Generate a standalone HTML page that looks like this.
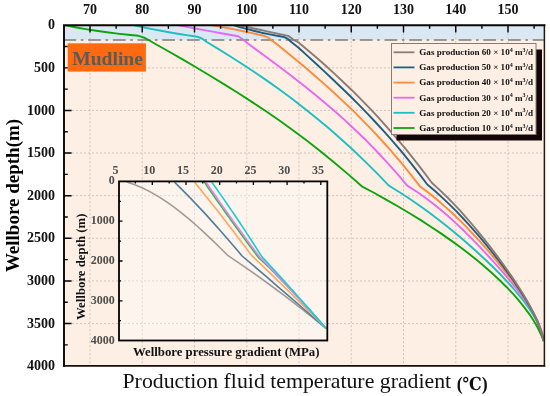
<!DOCTYPE html>
<html><head><meta charset="utf-8"><title>Chart</title>
<style>html,body{margin:0;padding:0;background:#fff}body{width:550px;height:396px;overflow:hidden}</style></head>
<body>
<svg width="550" height="396" viewBox="0 0 550 396" style="display:block">
<rect x="0" y="0" width="550" height="396" fill="#fff"/>
<rect x="64.0" y="25.2" width="480.4" height="340.6" fill="#feefe5"/>
<rect x="64.0" y="25.2" width="480.4" height="14.8" fill="#d9e8f3"/>
<path d="M90.00 25.2V365.8M142.25 25.2V365.8M194.50 25.2V365.8M246.75 25.2V365.8M299.00 25.2V365.8M351.25 25.2V365.8M403.50 25.2V365.8M455.75 25.2V365.8M508.00 25.2V365.8M64.0 67.83H544.4M64.0 110.45H544.4M64.0 153.07H544.4M64.0 195.70H544.4M64.0 238.32H544.4M64.0 280.95H544.4M64.0 323.57H544.4" stroke="#cabeb6" stroke-width="0.9" stroke-dasharray="2 2" fill="none"/>
<path d="M63.4 40.1H544.4" stroke="#7c7c7c" stroke-width="1.5" stroke-dasharray="12.8 4.6 2.6 4.7" fill="none"/>
<clipPath id="c"><rect x="64.0" y="25.2" width="480.4" height="340.6"/></clipPath>
<g clip-path="url(#c)" fill="none" stroke-width="1.9" stroke-linejoin="round">
<polyline points="64.6,25.1 75.2,27.2 85.7,29.1 96.3,30.8 106.9,32.3 117.5,33.6 128.0,34.8 138.6,35.8 144.1,37.7 149.5,40.5 155.0,43.7 168.8,51.5 182.6,59.4 196.4,67.5 210.1,75.7 223.9,84.1 237.7,92.7 251.5,101.6 265.3,110.8 279.1,120.3 292.9,130.2 306.7,140.5 320.4,151.2 334.2,162.4 348.0,174.1 361.8,186.3 374.4,193.0 386.5,199.8 398.2,206.5 409.5,213.2 420.4,219.9 430.8,226.7 440.9,233.4 450.5,240.1 459.8,246.8 468.6,253.6 477.1,260.3 485.1,267.0 492.7,273.7 499.9,280.5 506.7,287.2 513.1,293.9 518.9,300.6 524.3,307.4 529.3,314.1 533.7,320.8 537.6,327.5 540.9,334.3 543.7,341.0" stroke="#0ca50c"/>
<polyline points="134.0,25.2 143.0,27.2 152.1,29.1 161.1,30.8 170.2,32.5 179.2,34.0 188.3,35.4 197.3,36.7 201.8,38.5 204.5,40.2 206.4,41.8 218.6,49.1 230.8,56.7 242.9,64.5 255.1,72.5 267.3,80.9 279.5,89.5 291.7,98.5 303.8,107.9 316.0,117.7 328.2,127.8 340.4,138.5 352.6,149.5 364.7,161.1 376.9,173.2 389.1,185.8 400.0,192.5 410.3,199.3 420.1,206.0 429.4,212.8 438.3,219.5 446.9,226.3 455.2,233.0 463.2,239.8 470.9,246.5 478.4,253.3 485.7,260.0 492.7,266.8 499.5,273.5 505.9,280.3 512.1,287.0 517.9,293.8 523.3,300.5 528.3,307.3 532.7,314.0 536.6,320.8 539.7,327.5 542.1,334.3 543.7,341.0" stroke="#1cbfc2"/>
<polyline points="178.4,25.2 186.9,26.9 195.5,28.5 204.0,30.1 212.6,31.6 221.1,33.2 229.7,34.7 238.2,36.2 240.0,37.5 242.7,39.1 248.2,43.8 258.8,51.5 269.4,59.3 280.0,67.2 290.6,75.2 301.2,83.4 311.8,91.9 322.4,100.7 333.1,109.7 343.7,119.1 354.3,129.0 364.9,139.2 375.5,150.0 386.1,161.3 396.7,173.1 407.3,185.6 417.6,192.3 427.0,199.0 435.8,205.8 444.0,212.5 451.7,219.3 459.0,226.1 466.0,232.8 472.7,239.6 479.3,246.3 485.6,253.1 491.8,259.9 497.9,266.6 503.8,273.4 509.5,280.2 515.0,286.9 520.3,293.7 525.2,300.4 529.8,307.2 534.0,314.0 537.5,320.7 540.4,327.5 542.5,334.2 543.7,341.0" stroke="#e868ee"/>
<polyline points="212.0,25.3 219.5,26.6 227.0,28.0 234.5,29.4 242.0,31.0 249.5,32.6 257.0,34.3 264.5,36.0 269.2,38.2 271.8,40.4 276.6,44.1 286.2,51.8 295.7,59.6 305.3,67.6 314.8,75.7 324.4,84.1 334.0,92.7 343.5,101.6 353.1,110.7 362.6,120.3 372.2,130.2 381.8,140.5 391.3,151.2 400.9,162.4 410.4,174.1 420.0,186.4 428.9,193.1 437.2,199.8 445.0,206.6 452.4,213.3 459.4,220.0 466.1,226.7 472.5,233.5 478.7,240.2 484.7,246.9 490.5,253.6 496.2,260.3 501.7,267.1 507.0,273.8 512.2,280.5 517.1,287.2 521.8,293.9 526.2,300.7 530.3,307.4 534.1,314.1 537.4,320.8 540.1,327.6 542.3,334.3 543.7,341.0" stroke="#ff8a3c"/>
<polyline points="233.5,25.2 240.5,27.3 247.6,29.2 254.6,31.0 261.6,32.7 268.6,34.1 275.7,35.5 282.7,36.7 286.4,38.0 288.4,39.2 290.0,41.0 298.6,47.8 307.2,55.6 315.8,63.5 324.3,71.4 332.9,79.5 341.5,87.7 350.1,96.0 358.7,104.6 367.2,113.4 375.8,122.5 384.4,131.9 393.0,141.6 401.6,151.7 410.1,162.2 418.7,173.1 427.3,184.5 435.3,191.3 442.8,198.1 449.9,204.9 456.7,211.7 463.2,218.5 469.5,225.3 475.5,232.1 481.3,238.9 486.9,245.7 492.4,252.5 497.8,259.3 503.0,266.2 508.0,273.0 512.9,279.8 517.5,286.6 522.0,293.4 526.2,300.2 530.1,307.0 533.7,313.8 537.0,320.6 539.7,327.4 542.0,334.2 543.7,341.0" stroke="#1f5f82"/>
<polyline points="238.7,25.2 245.8,26.8 252.8,28.3 259.9,29.8 267.0,31.4 274.1,32.9 281.1,34.4 288.2,35.9 291.0,37.8 293.6,40.0 298.6,42.5 307.5,49.9 316.4,57.5 325.2,65.3 334.1,73.4 343.0,81.7 351.9,90.2 360.8,99.1 369.6,108.2 378.5,117.7 387.4,127.6 396.3,137.8 405.2,148.4 414.0,159.4 422.9,170.8 431.8,182.7 439.3,189.6 446.5,196.5 453.2,203.3 459.7,210.2 465.8,217.1 471.8,224.0 477.5,230.9 483.1,237.8 488.5,244.6 493.8,251.5 498.9,258.4 503.9,265.3 508.8,272.2 513.5,279.1 518.0,285.9 522.3,292.8 526.5,299.7 530.3,306.6 533.8,313.5 537.0,320.4 539.7,327.2 542.0,334.1 543.7,341.0" stroke="#8c7b74"/>
</g>
<path d="M64.0 365.8H544.4" fill="none" stroke="#1c0c08" stroke-width="1.7" stroke-linecap="square"/>
<path d="M544.4 25.2V365.8" fill="none" stroke="#2a140f" stroke-width="1.5" stroke-linecap="square"/>
<path d="M64.0 365.8V25.2H544.4" fill="none" stroke="#0c0503" stroke-width="1.9" stroke-linecap="square"/>
<path d="M90.00 25.2v7.2M116.12 25.2v3.6M142.25 25.2v7.2M168.38 25.2v3.6M194.50 25.2v7.2M220.62 25.2v3.6M246.75 25.2v7.2M272.88 25.2v3.6M299.00 25.2v7.2M325.12 25.2v3.6M351.25 25.2v7.2M377.38 25.2v3.6M403.50 25.2v7.2M429.62 25.2v3.6M455.75 25.2v7.2M481.88 25.2v3.6M508.00 25.2v7.2M534.12 25.2v3.6M64.0 46.51h3.8M64.0 67.83h7.6M64.0 89.14h3.8M64.0 110.45h7.6M64.0 131.76h3.8M64.0 153.07h7.6M64.0 174.39h3.8M64.0 195.70h7.6M64.0 217.01h3.8M64.0 238.32h7.6M64.0 259.64h3.8M64.0 280.95h7.6M64.0 302.26h3.8M64.0 323.57h7.6M64.0 344.89h3.8" stroke="#000" stroke-width="1.4" fill="none"/>
<g font-family="'Liberation Serif',serif" font-weight="bold" font-size="14" fill="#111">
<text x="90.0" y="14.1" text-anchor="middle">70</text>
<text x="142.2" y="14.1" text-anchor="middle">80</text>
<text x="194.5" y="14.1" text-anchor="middle">90</text>
<text x="246.8" y="14.1" text-anchor="middle">100</text>
<text x="299.0" y="14.1" text-anchor="middle">110</text>
<text x="351.2" y="14.1" text-anchor="middle">120</text>
<text x="403.5" y="14.1" text-anchor="middle">130</text>
<text x="455.8" y="14.1" text-anchor="middle">140</text>
<text x="508.0" y="14.1" text-anchor="middle">150</text>
<text x="55" y="29.2" text-anchor="end">0</text>
<text x="55" y="71.8" text-anchor="end">500</text>
<text x="55" y="114.5" text-anchor="end">1000</text>
<text x="55" y="157.1" text-anchor="end">1500</text>
<text x="55" y="199.7" text-anchor="end">2000</text>
<text x="55" y="242.3" text-anchor="end">2500</text>
<text x="55" y="284.9" text-anchor="end">3000</text>
<text x="55" y="327.6" text-anchor="end">3500</text>
<text x="55" y="370.2" text-anchor="end">4000</text>
</g>
<rect x="67.7" y="43.3" width="78.2" height="28.3" fill="#ff6a10"/>
<text x="72.2" y="64.9" font-family="'Liberation Serif',serif" font-weight="bold" font-size="19.6" fill="#5a5a5a">Mudline</text>
<rect x="396.5" y="49.5" width="145.5" height="91" fill="#120606"/>
<rect x="391.5" y="43.5" width="144.5" height="91" fill="#feefe5" stroke="#8a7a74" stroke-width="1"/>
<g font-family="'Liberation Serif',serif" font-weight="bold" font-size="9.1" fill="#111">
<path d="M393.5 52.3H414.5" stroke="#8c7b74" stroke-width="1.8"/>
<text x="419.3" y="55.1">Gas production 60 × 10<tspan dy="-3.2" font-size="6">4</tspan><tspan dy="3.2"> m</tspan><tspan dy="-3.2" font-size="6">3</tspan><tspan dy="3.2">/d</tspan></text>
<path d="M393.5 67.4H414.5" stroke="#1f5f82" stroke-width="1.8"/>
<text x="419.3" y="70.2">Gas production 50 × 10<tspan dy="-3.2" font-size="6">4</tspan><tspan dy="3.2"> m</tspan><tspan dy="-3.2" font-size="6">3</tspan><tspan dy="3.2">/d</tspan></text>
<path d="M393.5 82.6H414.5" stroke="#ff8a3c" stroke-width="1.8"/>
<text x="419.3" y="85.4">Gas production 40 × 10<tspan dy="-3.2" font-size="6">4</tspan><tspan dy="3.2"> m</tspan><tspan dy="-3.2" font-size="6">3</tspan><tspan dy="3.2">/d</tspan></text>
<path d="M393.5 97.7H414.5" stroke="#e868ee" stroke-width="1.8"/>
<text x="419.3" y="100.5">Gas production 30 × 10<tspan dy="-3.2" font-size="6">4</tspan><tspan dy="3.2"> m</tspan><tspan dy="-3.2" font-size="6">3</tspan><tspan dy="3.2">/d</tspan></text>
<path d="M393.5 112.8H414.5" stroke="#1cbfc2" stroke-width="1.8"/>
<text x="419.3" y="115.6">Gas production 20 × 10<tspan dy="-3.2" font-size="6">4</tspan><tspan dy="3.2"> m</tspan><tspan dy="-3.2" font-size="6">3</tspan><tspan dy="3.2">/d</tspan></text>
<path d="M393.5 128.0H414.5" stroke="#0ca50c" stroke-width="1.8"/>
<text x="419.3" y="130.8">Gas production 10 × 10<tspan dy="-3.2" font-size="6">4</tspan><tspan dy="3.2"> m</tspan><tspan dy="-3.2" font-size="6">3</tspan><tspan dy="3.2">/d</tspan></text>
</g>
<rect x="119.0" y="181.4" width="208.3" height="159.1" fill="#fff" fill-opacity="0.35"/>
<clipPath id="ic"><rect x="119.0" y="181.4" width="208.3" height="159.1"/></clipPath>
<g clip-path="url(#ic)" fill="none" stroke-width="1.6" stroke-linejoin="round">
<polyline points="127.0,182.0 134.8,184.7 142.6,188.0 150.3,191.9 158.1,196.4 165.9,201.4 173.7,206.9 181.4,212.9 189.2,219.2 197.0,226.0 204.8,233.1 212.5,240.4 220.3,248.0 228.1,255.7 242.1,265.1 256.1,274.9 270.1,285.0 284.1,295.4 298.1,306.1 312.1,317.2 326.1,328.5" stroke="#a39a96"/>
<polyline points="174.6,182.2 179.8,187.4 185.0,192.6 190.2,197.9 195.4,203.4 200.6,208.9 205.8,214.4 210.9,220.1 216.1,225.9 221.3,231.7 226.5,237.7 231.7,243.7 236.9,249.8 242.1,256.0 254.1,266.2 266.1,276.4 278.1,286.8 290.1,297.1 302.1,307.5 314.1,318.0 326.1,328.5" stroke="#4f7f9c"/>
<polyline points="194.5,182.1 198.9,187.5 203.3,192.9 207.7,198.4 212.1,203.9 216.5,209.4 220.9,215.0 225.2,220.7 229.6,226.4 234.0,232.1 238.4,237.9 242.8,243.7 247.2,249.5 251.6,255.4 262.2,265.5 272.9,275.8 283.5,286.2 294.2,296.6 304.8,307.2 315.5,317.8 326.1,328.5" stroke="#ffa562"/>
<polyline points="204.4,182.1 208.5,188.2 212.7,194.2 216.8,200.2 221.0,206.1 225.1,212.0 229.3,217.8 233.4,223.6 237.6,229.3 241.7,235.0 245.9,240.7 250.0,246.3 254.2,251.8 258.3,257.3 268.6,267.0 278.3,276.9 288.0,287.0 297.7,297.2 307.2,307.5 316.6,317.9 326.1,328.5" stroke="#24c04a"/>
<polyline points="206.0,182.1 210.1,188.2 214.3,194.2 218.4,200.2 222.6,206.1 226.7,212.0 230.9,217.8 235.0,223.6 239.2,229.3 243.3,235.0 247.5,240.7 251.6,246.3 255.8,251.8 259.9,257.3 269.4,267.0 278.8,276.9 288.3,287.0 297.7,297.2 307.2,307.5 316.6,317.9 326.1,328.5" stroke="#ee7cf0"/>
<polyline points="211.7,182.1 215.6,187.5 219.4,192.9 223.3,198.4 227.1,204.0 231.0,209.6 234.8,215.2 238.7,221.0 242.5,226.8 246.4,232.6 250.2,238.5 254.1,244.5 257.9,250.5 261.8,256.6 271.0,266.5 280.2,276.6 289.4,286.7 298.5,297.0 307.7,307.4 316.9,317.9 326.1,328.5" stroke="#19cfcf"/>
</g>
<rect x="119.0" y="181.4" width="208.3" height="159.1" fill="none" stroke="#000" stroke-width="1.8"/>
<path d="M152.3 181.4v3.5M186.0 181.4v3.5M219.7 181.4v3.5M253.4 181.4v3.5M287.1 181.4v3.5M320.8 181.4v3.5M135.4 181.4v2M169.2 181.4v2M202.8 181.4v2M236.5 181.4v2M270.2 181.4v2M304.0 181.4v2M119.0 221.2h3.5M119.0 261.0h3.5M119.0 300.8h3.5M119.0 201.3h2M119.0 241.1h2M119.0 280.9h2M119.0 320.7h2" stroke="#000" stroke-width="1.3" fill="none"/>
<g font-family="'Liberation Serif',serif" font-weight="bold" font-size="12" fill="#4d4d4d">
<text x="115.5" y="174.3" text-anchor="middle">5</text>
<text x="149.2" y="174.3" text-anchor="middle">10</text>
<text x="183.0" y="174.3" text-anchor="middle">15</text>
<text x="216.8" y="174.3" text-anchor="middle">20</text>
<text x="250.5" y="174.3" text-anchor="middle">25</text>
<text x="284.2" y="174.3" text-anchor="middle">30</text>
<text x="318.0" y="174.3" text-anchor="middle">35</text>
<text x="114.8" y="184.4" text-anchor="end">0</text>
<text x="114.8" y="224.2" text-anchor="end">1000</text>
<text x="114.8" y="264.0" text-anchor="end">2000</text>
<text x="114.8" y="303.8" text-anchor="end">3000</text>
<text x="114.8" y="343.6" text-anchor="end">4000</text>
<text x="226.2" y="356.3" text-anchor="middle" font-size="12.8" fill="#111">Wellbore pressure gradient (MPa)</text>
<text transform="translate(84.8,266.8) rotate(-90)" text-anchor="middle" font-size="12.8" fill="#111">Wellbore depth (m)</text>
</g>
<text transform="translate(18.6,195.5) rotate(-90)" text-anchor="middle" font-family="'Liberation Serif',serif" font-weight="bold" font-size="19" fill="#000">Wellbore depth(m)</text>
<text x="122.5" y="388.4" font-family="'Liberation Serif',serif" font-size="21.8" fill="#111">Production fluid temperature gradient <tspan dy="1.3" font-weight="bold" font-size="17.8" font-family="'Liberation Serif','DejaVu Serif Condensed','DejaVu Serif','Noto Serif CJK SC',serif">(℃)</tspan></text>
</svg>
</body></html>
